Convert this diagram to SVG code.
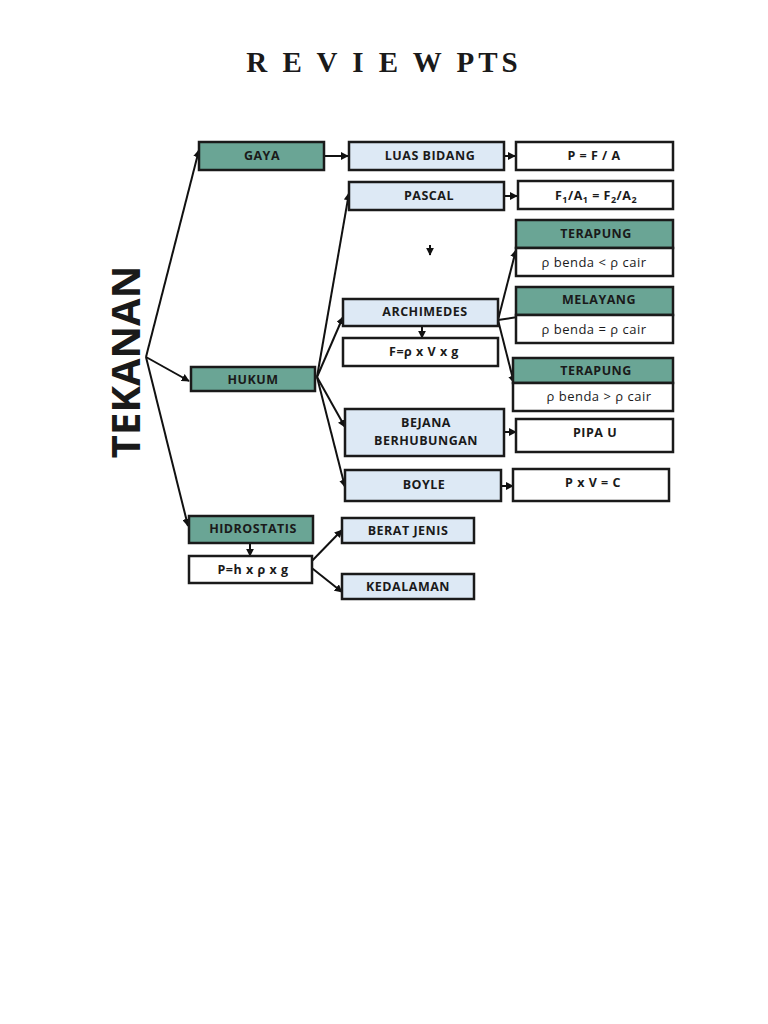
<svg xmlns="http://www.w3.org/2000/svg" width="768" height="1024" viewBox="0 0 768 1024">
<defs>
<marker id="a" viewBox="0 0 10 10" refX="9" refY="5" markerWidth="4" markerHeight="4" orient="auto"><path d="M0,0L10,5L0,10z" fill="#111"/></marker>
<style>
.t{fill:#6aa595;stroke:#1a1a1a;stroke-width:2.5}
.b{fill:#dde9f5;stroke:#1a1a1a;stroke-width:2.5}
.w{fill:#fff;stroke:#1a1a1a;stroke-width:2.5}
text{font-family:"Open Sans","Liberation Sans",sans-serif;font-weight:bold;font-size:12.5px;fill:#1a1a1a;text-anchor:middle;letter-spacing:0.5px}
.n{font-weight:normal;font-size:13px}
.c path,.c line{stroke:#111;stroke-width:2;fill:none;marker-end:url(#a)}
</style>
</defs>
<rect width="768" height="1024" fill="#fff"/>
<text x="384" y="72" style="font-family:'Liberation Serif',serif;font-size:29px;letter-spacing:4px">R E V I E W PTS</text>
<text transform="translate(140,362) rotate(-90)" style="font-size:40px;font-weight:bold;letter-spacing:0">TEKANAN</text>
<g class="c">
<line x1="146" y1="357" x2="199" y2="150"/>
<line x1="146" y1="357" x2="189" y2="381"/>
<line x1="146" y1="357" x2="188" y2="526"/>
<line x1="324" y1="156" x2="348" y2="156"/>
<line x1="504" y1="156" x2="515" y2="156"/>
<line x1="504" y1="196" x2="517" y2="196"/>
<line x1="317" y1="377" x2="349" y2="193"/>
<line x1="317" y1="377" x2="343" y2="317"/>
<line x1="317" y1="377" x2="345" y2="427"/>
<line x1="317" y1="377" x2="345" y2="487"/>
<line x1="498" y1="320" x2="516" y2="250"/>
<line x1="498" y1="320" x2="524" y2="316"/>
<line x1="498" y1="320" x2="514" y2="383"/>
<line x1="422" y1="326" x2="422" y2="338"/>
<line x1="430" y1="245" x2="430" y2="255"/>
<line x1="504" y1="432" x2="516" y2="432"/>
<line x1="501" y1="486" x2="513" y2="486"/>
<line x1="250" y1="543" x2="250" y2="556"/>
<line x1="308" y1="565" x2="342" y2="530"/>
<line x1="308" y1="565" x2="342" y2="592"/>
</g>
<g id="gaya"><rect class="t" x="199" y="142" width="125" height="28"/><text x="262" y="160">GAYA</text></g>
<g id="luas"><rect class="b" x="349" y="142" width="155" height="28"/><text x="430" y="160">LUAS BIDANG</text></g>
<g id="pfa"><rect class="w" x="516" y="142" width="157" height="28"/><text x="594" y="160">P = F / A</text></g>
<g id="pascal"><rect class="b" x="349" y="182" width="155" height="28"/><text x="429" y="200">PASCAL</text></g>
<g id="f1a1"><rect class="w" x="518" y="181" width="155" height="28"/><text x="596" y="200">F<tspan font-size="9" dy="3">1</tspan><tspan dy="-3">/A</tspan><tspan font-size="9" dy="3">1</tspan><tspan dy="-3"> = F</tspan><tspan font-size="9" dy="3">2</tspan><tspan dy="-3">/A</tspan><tspan font-size="9" dy="3">2</tspan></text></g>
<g id="terapung1"><rect class="t" x="516" y="220" width="157" height="28"/><text x="596" y="238">TERAPUNG</text><rect class="w" x="516" y="248" width="157" height="28"/><text class="n" x="594" y="267">ρ benda  &lt;  ρ cair</text></g>
<g id="melayang"><rect class="t" x="516" y="287" width="157" height="28"/><text x="599" y="304">MELAYANG</text><rect class="w" x="516" y="315" width="157" height="28"/><text class="n" x="594" y="334">ρ benda =  ρ cair</text></g>
<g id="terapung2"><rect class="t" x="513" y="358" width="160" height="25"/><text x="596" y="375">TERAPUNG</text><rect class="w" x="513" y="383" width="160" height="28"/><text class="n" x="599" y="401">ρ benda &gt;   ρ cair</text></g>
<g id="archimedes"><rect class="b" x="343" y="299" width="155" height="27"/><text x="425" y="316">ARCHIMEDES</text></g>
<g id="fpvg"><rect class="w" x="343" y="338" width="155" height="28"/><text x="424" y="356">F=ρ x V x g</text></g>
<g id="hukum"><rect class="t" x="191" y="367" width="124" height="24"/><text x="253" y="384">HUKUM</text></g>
<g id="bejana"><rect class="b" x="345" y="409" width="159" height="47"/><text x="426" y="427">BEJANA</text><text x="426" y="445">BERHUBUNGAN</text></g>
<g id="pipau"><rect class="w" x="516" y="419" width="157" height="33"/><text x="595" y="437">PIPA U</text></g>
<g id="boyle"><rect class="b" x="345" y="470" width="156" height="31"/><text x="424" y="489">BOYLE</text></g>
<g id="pvc"><rect class="w" x="513" y="469" width="156" height="32"/><text x="593" y="487">P x V = C</text></g>
<g id="hidrostatis"><rect class="t" x="189" y="516" width="124" height="27"/><text x="253" y="533">HIDROSTATIS</text></g>
<g id="phpg"><rect class="w" x="189" y="556" width="123" height="27"/><text x="253" y="574">P=h x ρ x g</text></g>
<g id="berat"><rect class="b" x="342" y="518" width="132" height="25"/><text x="408" y="535">BERAT JENIS</text></g>
<g id="kedalaman"><rect class="b" x="342" y="574" width="132" height="25"/><text x="408" y="591">KEDALAMAN</text></g>
</svg>
